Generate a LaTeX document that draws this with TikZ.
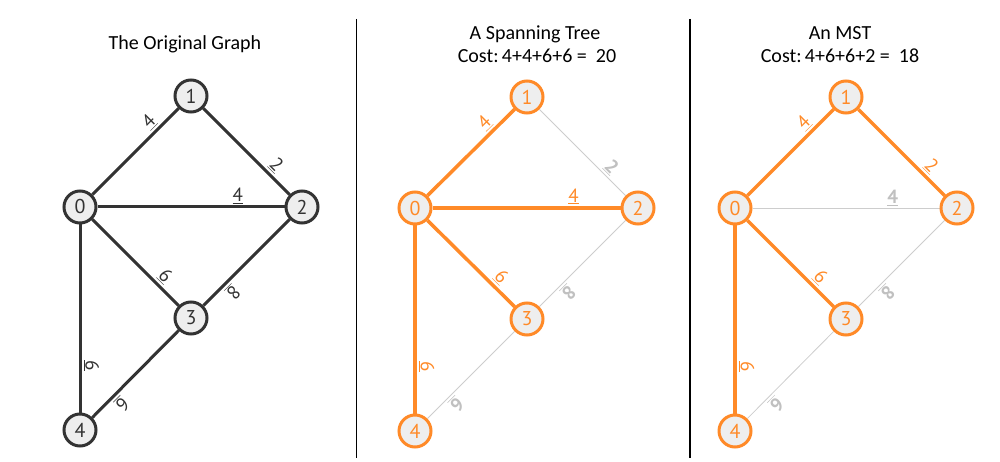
\documentclass[tikz,border=0pt]{standalone}
\usepackage{fontspec}
\setmainfont{Carlito}
\newfontfamily\vfont{PT Sans}
\usetikzlibrary{backgrounds}
\definecolor{org}{RGB}{255,138,40}
\definecolor{dk}{RGB}{51,51,51}
\definecolor{nfill}{RGB}{238,238,238}
\definecolor{lg}{RGB}{205,205,205}
\definecolor{lgt}{RGB}{192,192,192}
\begin{document}
\begin{tikzpicture}[x=1pt,y=-1pt,
 vtx/.style={circle,draw=dk,fill=nfill,line width=3pt,minimum size=32pt,inner sep=0pt,font=\fontsize{20}{20}\selectfont\vfont,text=dk},
 ovtx/.style={vtx,draw=org,text=org},
 e/.style={draw=dk,line width=3pt},
 oe/.style={draw=org,line width=3.5pt},
 ge/.style={draw=lg,line width=0.8pt},
 wl/.style={sloped,above=1pt,allow upside down,pos=0.75,inner sep=1pt,font=\fontsize{19}{19}\selectfont\vfont,text=dk},
 owl/.style={wl,text=org},
 gwl/.style={wl,text=lgt,font=\fontsize{19}{19}\selectfont\vfont\bfseries},
 ttl/.style={font=\fontsize{20}{20}\selectfont,text=black,inner sep=0pt,anchor=base},
 sep/.style={draw=black,line width=1.3pt}
]
\useasboundingbox (0,0) rectangle (1000,462);

% separators
\coordinate (s1a) at (356.5,19); \coordinate (s1b) at (356.5,458);
\coordinate (s2a) at (690,19); \coordinate (s2b) at (690,458);
\draw[sep] (s1a) -- (s1b);
\draw[sep] (s2a) -- (s2b);

% titles
\node[ttl] (t1) at (185,50) {The Original Graph};
\node[ttl] (t2a) at (535,40) {A Spanning Tree};
\node[ttl] (t2b) at (537,63) {Cost:\,4+4+6+6 =\ \ 20};
\node[ttl] (t3a) at (840,40) {An MST};
\node[ttl] (t3b) at (840,63) {Cost:\,4+6+6+2 =\ \ 18};

% panel 1
\node[vtx] (a0) at (80,207) {0};
\node[vtx] (a1) at (191,96) {1};
\node[vtx] (a2) at (302,207) {2};
\node[vtx] (a3) at (191,318) {3};
\node[vtx] (a4) at (80,430) {4};

% panel 2
\node[ovtx] (b0) at (415,208) {0};
\node[ovtx] (b1) at (527,97) {1};
\node[ovtx] (b2) at (638,208) {2};
\node[ovtx] (b3) at (527,319) {3};
\node[ovtx] (b4) at (415,431) {4};

% panel 3
\node[ovtx] (c0) at (735,208) {0};
\node[ovtx] (c1) at (846,97) {1};
\node[ovtx] (c2) at (957,208) {2};
\node[ovtx] (c3) at (846,319) {3};
\node[ovtx] (c4) at (735,431) {4};

\begin{pgfonlayer}{background}
% panel 1 edges
\draw[e] (a0) -- node[wl]{\underline{4}} (a1);
\draw[e] (a1) -- node[wl]{\underline{2}} (a2);
\draw[e] (a0) -- node[wl]{\underline{4}} (a2);
\draw[e] (a0) -- node[wl]{\underline{6}} (a3);
\draw[e] (a2) -- node[wl]{\underline{8}} (a3);
\draw[e] (a0) -- node[wl]{\underline{6}} (a4);
\draw[e] (a3) -- node[wl]{\underline{6}} (a4);

% panel 2 edges
\draw[ge] (b1) -- node[gwl]{\underline{2}} (b2);
\draw[ge] (b2) -- node[gwl]{\underline{8}} (b3);
\draw[ge] (b3) -- node[gwl]{\underline{6}} (b4);
\draw[oe] (b0) -- node[owl]{\underline{4}} (b1);
\draw[oe] (b0) -- node[owl]{\underline{4}} (b2);
\draw[oe] (b0) -- node[owl]{\underline{6}} (b3);
\draw[oe] (b0) -- node[owl]{\underline{6}} (b4);

% panel 3 edges
\draw[ge] (c0) -- node[gwl]{\underline{4}} (c2);
\draw[ge] (c2) -- node[gwl]{\underline{8}} (c3);
\draw[ge] (c3) -- node[gwl]{\underline{6}} (c4);
\draw[oe] (c0) -- node[owl]{\underline{4}} (c1);
\draw[oe] (c1) -- node[owl]{\underline{2}} (c2);
\draw[oe] (c0) -- node[owl]{\underline{6}} (c3);
\draw[oe] (c0) -- node[owl]{\underline{6}} (c4);
\end{pgfonlayer}
\end{tikzpicture}
\end{document}
